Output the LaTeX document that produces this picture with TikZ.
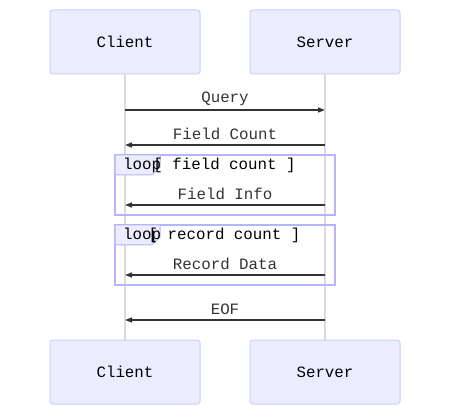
\documentclass[tikz,border=0pt]{standalone}
\usepackage{fontspec}
\setmonofont{Liberation Mono}
\usetikzlibrary{arrows.meta}
\definecolor{actorfill}{HTML}{ECECFF}
\definecolor{actorline}{HTML}{CCCCFF}
\definecolor{loopline}{HTML}{B4B4FF}
\definecolor{msgline}{HTML}{333333}
\tikzset{
	actor/.style={draw=actorline, fill=actorfill, line width=1pt, rounded corners=3pt,
		minimum width=150pt, minimum height=64pt, inner sep=0pt, font=\ttfamily\fontsize{15.8}{18}\selectfont},
	msg/.style={draw=msgline, line width=1.5pt, -{Triangle[length=7pt, width=5pt]}},
	msglabel/.style={font=\ttfamily\fontsize{15.8}{18}\selectfont, text=msgline, inner sep=0pt},
	looptxt/.style={font=\ttfamily\fontsize{15.8}{18}\selectfont, inner sep=0pt},
}
\begin{document}
\begin{tikzpicture}[x=1pt, y=-1pt]
	\useasboundingbox (0, 0) rectangle (450, 406);
	% lifelines
	\node[actor] (ct) at (125, 42) {Client};
	\node[actor] (st) at (325, 42) {Server};
	\node[actor] (cb) at (125, 372) {Client};
	\node[actor] (sb) at (325, 372) {Server};
	\draw[black!14, line width=1.5pt] (ct.south)--(cb.north);
	\draw[black!14, line width=1.5pt] (st.south)--(sb.north);

	% loop frames
	\draw[loopline, line width=1.5pt] (115, 155) rectangle (335, 215);
	\fill[actorfill, draw=loopline, line width=1pt] (115, 155)--(160, 155)--(160, 167)--(152, 175)--(115, 175)--cycle;
	\node[looptxt, anchor=west] (lp1) at (123, 165) {loop};
	\node[looptxt] (cnd1) at (224.5, 165) {[ field count ]};
	\draw[loopline, line width=1.5pt] (115, 225) rectangle (335, 285);
	\fill[actorfill, draw=loopline, line width=1pt] (115, 225)--(160, 225)--(160, 237)--(152, 245)--(115, 245)--cycle;
	\node[looptxt, anchor=west] (lp2) at (123, 235) {loop};
	\node[looptxt] (cnd2) at (224.5, 235) {[ record count ]};

	% messages
	\foreach \y/\nm/\txt in {110/q/Query, 145/fc/Field Count, 205/fi/Field Info, 275/rd/Record Data, 320/eof/EOF}{
		\coordinate (c\nm) at (125, \y);
		\coordinate (s\nm) at (325, \y);
		\node[msglabel] (l\nm) at (225, \y-11) {\txt};
	}
	\draw[msg] (cq)--(sq);
	\draw[msg] (sfc)--(cfc);
	\draw[msg] (sfi)--(cfi);
	\draw[msg] (srd)--(crd);
	\draw[msg] (seof)--(ceof);
\end{tikzpicture}
\end{document}
